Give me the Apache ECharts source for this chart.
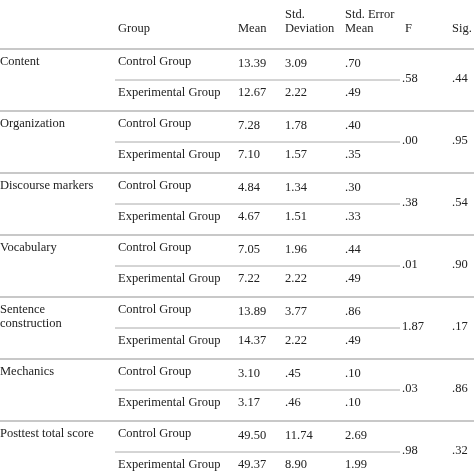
<!DOCTYPE html><html><head><meta charset="utf-8"><script src="https://cdn.jsdelivr.net/npm/echarts@6/dist/echarts.min.js"></script>
<style>html,body{margin:0;padding:0;background:#fff}#c{width:474px;height:474px}</style></head><body><div id="c"></div><script>
const measures=["Content","Organization","Discourse markers","Vocabulary","Sentence\nconstruction","Mechanics","Posttest total score"];
const groups=["Control Group","Experimental Group"];
const meanC=["13.39","7.28","4.84","7.05","13.89","3.10","49.50"];
const meanE=["12.67","7.10","4.67","7.22","14.37","3.17","49.37"];
const sdC=["3.09","1.78","1.34","1.96","3.77",".45","11.74"];
const sdE=["2.22","1.57","1.51","2.22","2.22",".46","8.90"];
const semC=[".70",".40",".30",".44",".86",".10","2.69"];
const semE=[".49",".35",".33",".49",".49",".10","1.99"];
const fVals=[".58",".00",".38",".01","1.87",".03",".98"];
const sigVals=[".44",".95",".54",".90",".17",".86",".32"];
const headers=["Group","Mean","Std.\nDeviation","Std. Error\nMean","F","Sig."];
const colX=[118,238,285,345,402,452];
const font='12.5px "Liberation Serif"', col='#222';
const g=[];
function t(x,y,s){g.push({type:'text',x:x,y:y,style:{text:s,font:font,fill:col,verticalAlign:'top',lineHeight:14}});}
function ln(x1,x2,y,w,c){g.push({type:'line',shape:{x1:x1,y1:y,x2:x2,y2:y},style:{stroke:c,lineWidth:w}});}
headers.forEach((h,i)=>{const lines=h.split('\n');t(colX[i]+(i==4?3:0),lines.length>1?8:22,h);});
const y0=49,step=62;
measures.forEach((m,i)=>{
 const y=y0+i*step;
 ln(0,474,y,2,'#c8c8c8');
 ln(115,400,y+31,1,'#aaa');
 t(0,y+6,m);
 t(colX[0],y+6,groups[0]);t(colX[1],y+8,meanC[i]);t(colX[2],y+8,sdC[i]);t(colX[3],y+8,semC[i]);
 t(colX[0],y+37,groups[1]);t(colX[1],y+37,meanE[i]);t(colX[2],y+37,sdE[i]);t(colX[3],y+37,semE[i]);
 t(colX[4],y+23,fVals[i]);t(colX[5],y+23,sigVals[i]);
});
const ch=echarts.init(document.getElementById('c'));
ch.setOption({graphic:{elements:g}});
</script></body></html>
